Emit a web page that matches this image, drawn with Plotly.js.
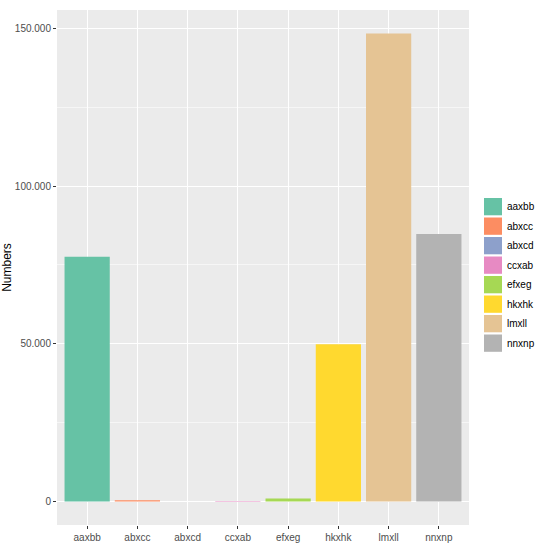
<!DOCTYPE html>
<html>
<head>
<meta charset="utf-8">
<script src="https://cdn.plot.ly/plotly-3.0.1.min.js"></script>
<style>html,body{margin:0;padding:0;background:#fff;}#chart{width:540px;height:550px;}</style>
</head>
<body>
<div id="chart"></div>
<script>
var categories = ["aaxbb", "abxcc", "abxcd", "ccxab", "efxeg", "hkxhk", "lmxll", "nnxnp"];
var values = [77600, 450, 60, 200, 1000, 49900, 148400, 84800];
var colors = ["#66C2A5", "#FC8D62", "#8DA0CB", "#E78AC3", "#A6D854", "#FFD92F", "#E5C494", "#B3B3B3"];
var yTicks = [0, 50000, 100000, 150000];

var font = "Liberation Sans, Arial, Helvetica, sans-serif";
var W = 540, H = 550;
var M = { l: 57, r: 71, t: 10, b: 25 };
var pw = W - M.l - M.r, ph = H - M.t - M.b;
function px2x(px) { return (px - M.l) / pw; }
function py2y(py) { return (H - M.b - py) / ph; }

var traces = categories.map(function (c, i) {
  return {
    type: "bar",
    name: c,
    x: [c],
    y: [values[i]],
    width: 0.9,
    marker: { color: colors[i], line: { width: 0 } },
    hoverinfo: "x+y",
    showlegend: false
  };
});

// legend drawn as shapes + annotations from the category/colour arrays
var shapes = [], annotations = [];
var keyLeft = 484, keyRight = 502, keyTop0 = 198, keyH = 17.3, keyPitch = 19.5;
categories.forEach(function (c, i) {
  var top = keyTop0 + i * keyPitch;
  shapes.push({
    type: "rect", xref: "paper", yref: "paper",
    x0: px2x(keyLeft), x1: px2x(keyRight),
    y0: py2y(top + keyH), y1: py2y(top),
    fillcolor: colors[i], line: { width: 0 }, layer: "above"
  });
  annotations.push({
    xref: "paper", yref: "paper",
    x: px2x(keyRight + 2.5), y: py2y(top + keyH / 2),
    xanchor: "left", yanchor: "middle",
    text: c, showarrow: false,
    font: { family: font, size: 10, color: "#000000" }
  });
});

var layout = {
  width: W,
  height: H,
  separators: ",.",
  margin: { l: M.l, r: M.r, t: M.t, b: M.b, pad: 0 },
  paper_bgcolor: "#FFFFFF",
  plot_bgcolor: "#EBEBEB",
  barmode: "overlay",
  showlegend: false,
  font: { family: font, size: 10, color: "#4D4D4D" },
  shapes: shapes,
  annotations: annotations,
  xaxis: {
    type: "category",
    categoryorder: "array",
    categoryarray: categories,
    range: [-0.6, 7.6],
    showgrid: true,
    gridcolor: "#FFFFFF",
    gridwidth: 1.1,
    zeroline: false,
    showline: false,
    ticks: "outside",
    ticklen: 3,
    tickwidth: 1,
    tickcolor: "#333333",
    tickfont: { family: font, size: 10, color: "#4D4D4D" },
    automargin: false,
    fixedrange: true
  },
  yaxis: {
    range: [-7420, 155820],
    tickvals: yTicks,
    tickformat: ",d",
    showgrid: true,
    gridcolor: "#FFFFFF",
    gridwidth: 1.1,
    minor: { dtick: 25000, tick0: 25000, showgrid: true, gridcolor: "#FFFFFF", gridwidth: 0.55, ticks: "" },
    zeroline: false,
    showline: false,
    ticks: "outside",
    ticklen: 3,
    tickwidth: 1,
    tickcolor: "#333333",
    tickfont: { family: font, size: 10, color: "#4D4D4D" },
    title: { text: "Numbers", font: { family: font, size: 12, color: "#000000" }, standoff: 0 },
    automargin: false,
    fixedrange: true
  }
};

Plotly.newPlot("chart", traces, layout, { displayModeBar: false, staticPlot: true });
</script>
</body>
</html>
